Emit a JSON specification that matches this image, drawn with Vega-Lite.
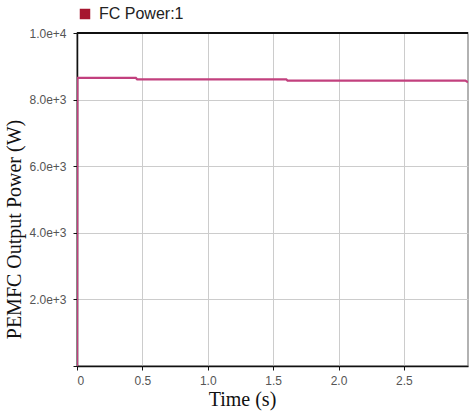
{
  "$schema": "https://vega.github.io/schema/vega-lite/v6.json",
  "autosize": "none",
  "width": 391,
  "height": 333,
  "padding": {"left": 77, "top": 33, "right": 6, "bottom": 46},
  "background": "white",
  "config": {
    "view": {"stroke": "#999999", "strokeWidth": 1.5},
    "axis": {
      "labelFont": "Liberation Sans",
      "labelFontSize": 12,
      "labelColor": "#555555",
      "titleFont": "Liberation Serif",
      "titleFontSize": 20,
      "titleFontWeight": "normal",
      "titleColor": "#111111",
      "domainColor": "#111111",
      "domainWidth": 1.5,
      "tickColor": "#111111",
      "tickSize": 4
    }
  },
  "data": {
    "values": [
      {"t": 0.0, "p": 0, "s": "FC Power:1"},
      {"t": 0.003, "p": 8650, "s": "FC Power:1"},
      {"t": 0.45, "p": 8650, "s": "FC Power:1"},
      {"t": 0.46, "p": 8610, "s": "FC Power:1"},
      {"t": 1.6, "p": 8610, "s": "FC Power:1"},
      {"t": 1.61, "p": 8570, "s": "FC Power:1"},
      {"t": 2.97, "p": 8570, "s": "FC Power:1"},
      {"t": 2.99, "p": 8520, "s": "FC Power:1"}
    ]
  },
  "layer": [
    {
      "mark": {"type": "line", "strokeWidth": 2.2, "clip": true},
      "encoding": {
        "x": {
          "field": "t", "type": "quantitative",
          "scale": {"domain": [0, 2.99], "nice": false, "zero": true},
          "axis": {
            "title": "Time (s)",
            "values": [0, 0.5, 1, 1.5, 2, 2.5],
            "labelExpr": "datum.value == 0 ? '0' : format(datum.value, '.1f')",
            "labelPadding": 5,
            "titlePadding": 3,
            "titleX": 165,
            "grid": true,
            "gridColor": "#cccccc",
            "gridWidth": 1,
            "gridOpacity": 1
          }
        },
        "y": {
          "field": "p", "type": "quantitative",
          "scale": {"domain": [0, 10000], "nice": false},
          "axis": {
            "title": "PEMFC Output Power (W)",
            "values": [0, 2000, 4000, 6000, 8000, 10000],
            "labelExpr": "datum.value == 0 ? '' : format(datum.value, '.1e')",
            "labelPadding": 7,
            "titlePadding": 4,
            "titleY": 196,
            "grid": true,
            "gridColor": "#cccccc",
            "gridWidth": 1,
            "gridOpacity": 1
          }
        },
        "color": {
          "field": "s", "type": "nominal",
          "scale": {"range": ["#c2407e"]},
          "legend": {
            "title": null,
            "orient": "none",
            "legendX": 0,
            "legendY": -27,
            "symbolType": "square",
            "symbolSize": 110,
            "labelFont": "Liberation Sans",
            "labelFontSize": 16,
            "labelColor": "#222222",
            "labelOffset": 6,
            "encode": {
              "symbols": {"update": {"fill": {"value": "#a6162f"}, "stroke": {"value": "#a6162f"}, "strokeWidth": {"value": 0}}}
            }
          }
        }
      }
    },
    {
      "mark": {"type": "rule", "color": "#111111", "strokeWidth": 1.5},
      "encoding": {"y": {"datum": 10000}}
    }
  ]
}
